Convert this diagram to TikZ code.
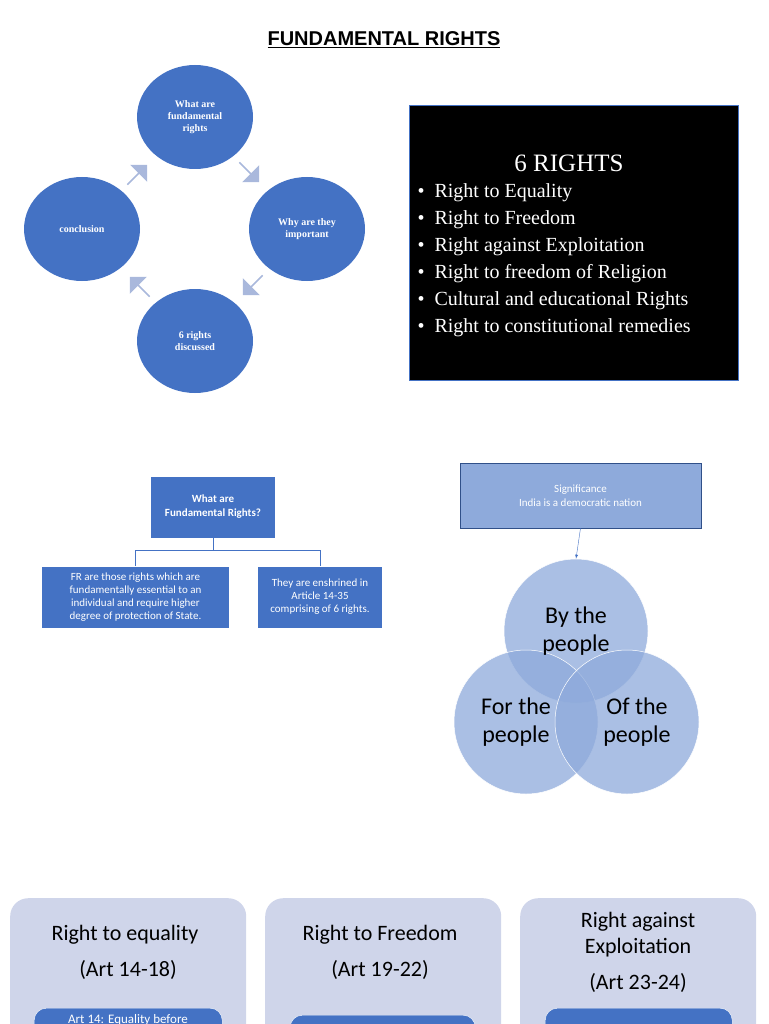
\documentclass[tikz,border=0pt]{standalone}
\usepackage{fontspec}
\setmainfont{Carlito}
\newfontfamily\serifx{Liberation Serif}
\newfontfamily\sansx{Liberation Sans}
\usetikzlibrary{shapes.arrows,shapes.geometric}
\definecolor{mblue}{HTML}{4472C4}
\definecolor{lblue}{HTML}{A9B8DC}
\definecolor{vblue}{HTML}{8EAADB}
\definecolor{card}{HTML}{CFD5EA}
\tikzset{
 circ/.style={ellipse,fill=mblue,minimum width=116pt,minimum height=104pt,text=white,font=\serifx\bfseries\fontsize{10}{12}\selectfont,align=center,inner sep=0pt},
 barrow/.style={single arrow,fill=lblue,minimum width=24pt,single arrow head extend=3pt,minimum height=28pt,inner sep=0pt},
 obox/.style={fill=mblue,text=white,font=\fontsize{11}{13}\selectfont,align=center,inner sep=2pt},
 vc/.style={circle,fill=vblue,fill opacity=0.75,minimum size=144pt,draw=white,line width=0.5pt},
 vt/.style={font=\fontsize{24}{28}\selectfont,align=center},
 cardbox/.style={fill=card,rounded corners=18pt},
 cardt/.style={font=\fontsize{22}{30}\selectfont,align=center},
 inbox/.style={fill=mblue,rounded corners=12pt,draw=white}
}
\begin{document}
\begin{tikzpicture}[x=1pt,y=-1pt]
\useasboundingbox (0,0) rectangle (768,1024);
\node[font=\sansx\bfseries\fontsize{20}{24}\selectfont] (title) at (384,40) {\underline{FUNDAMENTAL RIGHTS}};
\node[circ] (c1) at (195,117) {What are\\fundamental\\rights};
\node[circ] (c2) at (307,229) {Why are they\\important};
\node[circ] (c3) at (195,341) {6 rights\\discussed};
\node[circ] (c4) at (82,229) {conclusion};
\node[barrow,rotate=-45] (a1) at (249,172) {};
\node[barrow,rotate=-135] (a2) at (253,285) {};
\node[barrow,rotate=135] (a3) at (140,287) {};
\node[barrow,rotate=45] (a4) at (137,175) {};
\node[fill=black,draw=mblue,minimum width=329pt,minimum height=275pt,anchor=north west] (rb) at (409,105) {};
\node[text=white,font=\serifx\fontsize{25}{30}\selectfont] (rt) at (569,163) {6 RIGHTS};
\node[text=white,font=\serifx\fontsize{20}{27}\selectfont,align=left,anchor=north west] (rl) at (414,180) {%
\textbullet\ \ Right to Equality\\
\textbullet\ \ Right to Freedom\\
\textbullet\ \ Right against Exploitation\\
\textbullet\ \ Right to freedom of Religion\\
\textbullet\ \ Cultural and educational Rights\\
\textbullet\ \ Right to constitutional remedies};
\node[obox,font=\bfseries\fontsize{11}{14}\selectfont,minimum width=124pt,minimum height=61pt] (w) at (213,507) {What are\\Fundamental Rights?};
\node[obox,minimum width=187pt,minimum height=61pt] (l) at (135.5,597) {FR are those rights which are\\fundamentally essential to an\\individual and require higher\\degree of protection of State.};
\node[obox,minimum width=124pt,minimum height=61pt] (r) at (320,597) {They are enshrined in\\Article 14-35\\comprising of 6 rights.};
\coordinate (j) at (213,550);
\draw[mblue] (w.south) -- (j) -| (l.north);
\draw[mblue] (j) -| (r.north);
\node[fill=vblue,draw=mblue!70!black,text=white,font=\fontsize{11}{14}\selectfont,align=center,minimum width=241pt,minimum height=65pt] (s) at (580.5,495.5) {Significance\\India is a democratic nation};
\node[vc] (v1) at (576,631) {};
\node[vc] (v2) at (526,722) {};
\node[vc] (v3) at (627,722) {};
\draw[mblue,-latex] (s.south) -- (v1.north);
\node[vt] (t1) at (576,631) {By the\\people};
\node[vt] (t2) at (516,722) {For the\\people};
\node[vt] (t3) at (637,722) {Of the\\people};
\node[cardbox,minimum width=236pt,minimum height=170pt,anchor=north west] (k1) at (10,898) {};
\node[cardbox,minimum width=236pt,minimum height=170pt,anchor=north west] (k2) at (265,898) {};
\node[cardbox,minimum width=236pt,minimum height=170pt,anchor=north west] (k3) at (520,898) {};
\node[cardt] (kt1) at (125,935) {Right to equality};
\node[cardt] (ka1) at (128,970) {(Art 14-18)};
\node[cardt] (kt2) at (380,935) {Right to Freedom};
\node[cardt] (ka2) at (380,970) {(Art 19-22)};
\node[cardt,font=\fontsize{22}{26}\selectfont] (kt3) at (638,935) {Right against\\Exploitation};
\node[cardt] (ka3) at (638,983) {(Art 23-24)};
\node[inbox,minimum width=188pt,minimum height=40pt,anchor=north west] (i1) at (34,1008) {};
\node[text=white,font=\fontsize{13}{15}\selectfont] (i1t) at (128,1020) {Art 14: Equality before};
\node[inbox,minimum width=185pt,minimum height=40pt,anchor=north west] (i2) at (290,1015) {};
\node[inbox,minimum width=187pt,minimum height=40pt,anchor=north west] (i3) at (545,1008) {};
\end{tikzpicture}
\end{document}
